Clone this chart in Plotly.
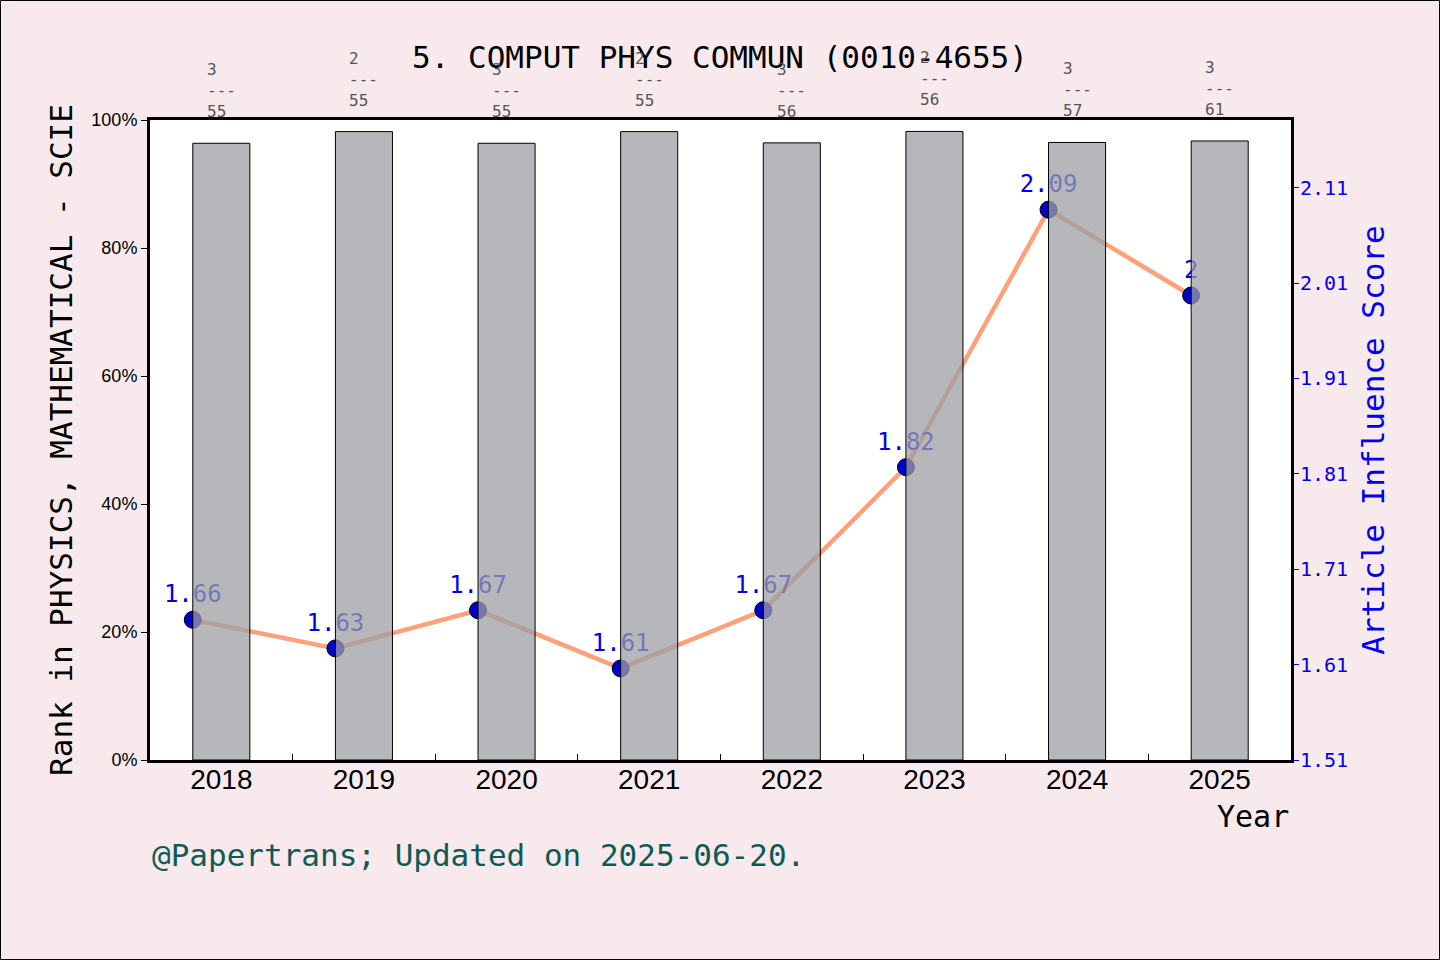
import plotly.graph_objects as go

years = ["2018", "2019", "2020", "2021", "2022", "2023", "2024", "2025"]
rank = [3, 2, 3, 2, 3, 2, 3, 3]
total = [55, 55, 55, 55, 56, 56, 57, 61]
ais = [1.657, 1.627, 1.667, 1.606, 1.667, 1.817, 2.087, 1.997]

MONO = "DejaVu Sans Mono"
SANS = "Liberation Sans"

x_pos = list(range(len(years)))
pct = [(n - r + 1) / n for r, n in zip(rank, total)]
ais_text = [f"{round(v, 2):g}" for v in ais]

fig = go.Figure()

# line + markers first (lower subplot layer), bars drawn on top semi-transparent
fig.add_trace(
    go.Scatter(
        x=[i - 0.2 for i in x_pos],
        y=ais,
        mode="lines+markers+text",
        text=ais_text,
        textposition="top center",
        textfont=dict(family=MONO, size=24, color="#0000EE"),
        line=dict(color="#FFA07A", width=4.5),
        marker=dict(size=17, color="#0000CD", line=dict(color="black", width=1)),
        yaxis="y",
        showlegend=False,
    )
)

fig.add_trace(
    go.Bar(
        x=x_pos,
        y=pct,
        width=0.4,
        marker=dict(color="rgba(158,159,163,0.75)", line=dict(color="black", width=1)),
        yaxis="y2",
        showlegend=False,
    )
)

annotations = []
for i, (r, n, p) in enumerate(zip(rank, total, pct)):
    annotations.append(
        dict(
            x=i, y=p, xref="x", yref="y2",
            text=f"{r}<br>---<br>{n}",
            showarrow=False, align="left",
            xanchor="center", yanchor="bottom", yshift=20,
            font=dict(family=MONO, size=16, color="#555555"),
        )
    )

annotations += [
    dict(text="Year", x=1, y=-0.089, xref="paper", yref="paper",
         xanchor="right", yanchor="middle", showarrow=False,
         font=dict(family=MONO, size=30, color="black")),
    dict(text="@Papertrans; Updated on 2025-06-20.", x=0, y=-0.148,
         xref="paper", yref="paper", xanchor="left", yanchor="middle",
         showarrow=False, font=dict(family=MONO, size=31, color="#0F5A55")),
]

fig.update_layout(
    width=1440,
    height=960,
    paper_bgcolor="#F7E9EC",
    plot_bgcolor="white",
    margin=dict(l=150, r=149, t=120, b=200),
    title=dict(
        text="5. COMPUT PHYS COMMUN (0010-4655)",
        x=0.5, xanchor="center", y=0.94, yanchor="middle",
        font=dict(family=MONO, size=31, color="black"),
    ),
    xaxis=dict(
        range=[-0.5, 7.5],
        tickvals=x_pos,
        ticktext=years,
        ticks="",
        ticklabelstandoff=-8,
        tickfont=dict(family=SANS, size=28, color="black"),
        minor=dict(tickvals=[i + 0.5 for i in x_pos[:-1]], ticks="inside",
                   ticklen=6, tickcolor="black", showgrid=False),
        showline=True, linewidth=3, linecolor="black", mirror=True,
        showgrid=False, zeroline=False,
    ),
    yaxis=dict(
        side="right",
        range=[1.51, 2.181],
        tickvals=[1.51, 1.61, 1.71, 1.81, 1.91, 2.01, 2.11],
        ticktext=["1.51", "1.61", "1.71", "1.81", "1.91", "2.01", "2.11"],
        ticks="outside", ticklen=5, tickcolor="#0000EE",
        ticklabelstandoff=-3,
        tickfont=dict(family=MONO, size=20, color="#0000EE"),
        title=dict(text="Article Influence Score",
                   font=dict(family=MONO, size=31, color="#0000EE"), standoff=16),
        showline=True, linewidth=3, linecolor="black",
        showgrid=False, zeroline=False,
    ),
    yaxis2=dict(
        side="left",
        overlaying="y",
        range=[0, 1],
        tickvals=[0, 0.2, 0.4, 0.6, 0.8, 1.0],
        tickformat=".0%",
        ticks="outside", ticklen=6, tickcolor="black",
        tickfont=dict(family=SANS, size=18, color="black"),
        title=dict(text="Rank in PHYSICS, MATHEMATICAL - SCIE",
                   font=dict(family=MONO, size=31, color="black"), standoff=10),
        showline=True, linewidth=3, linecolor="black",
        showgrid=False, zeroline=False,
    ),
    annotations=annotations,
    shapes=[
        dict(type="rect", xref="paper", yref="paper",
             x0=-149.5 / 1141, x1=1289.5 / 1141, y0=-199.5 / 640, y1=759.5 / 640,
             line=dict(color="black", width=1), fillcolor="rgba(0,0,0,0)", layer="below"),
    ],
)

fig.write_html(
    "out.html",
    config={"displayModeBar": False},
    post_script="document.body.style.margin='0';",
)
